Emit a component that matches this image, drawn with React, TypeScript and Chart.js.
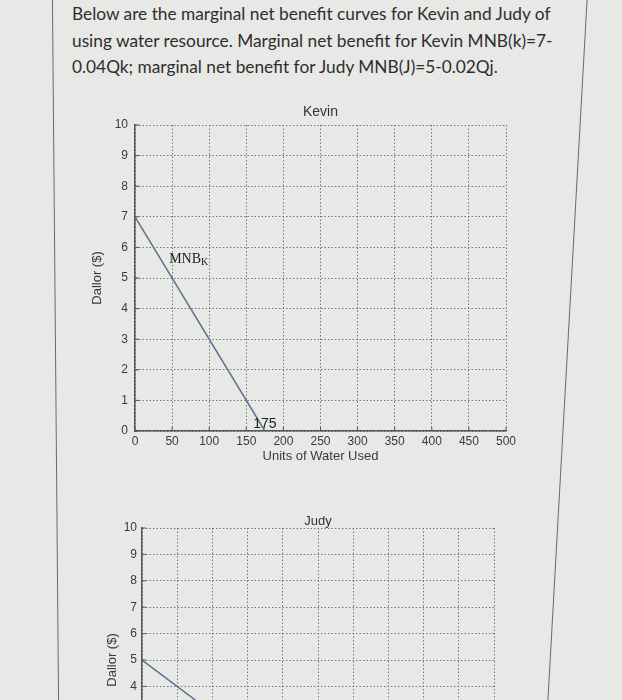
import React, { useEffect, useRef } from 'react';
import { Chart, registerables } from 'chart.js';

Chart.register(...registerables);

// question text, one entry per printed line
const questionLines = [
  'Below are the marginal net benefit curves for Kevin and Judy of',
  'using water resource. Marginal net benefit for Kevin MNB(k)=7-',
  '0.04Qk; marginal net benefit for Judy MNB(J)=5-0.02Qj.',
];

const xTickValues = [0, 50, 100, 150, 200, 250, 300, 350, 400, 450, 500];
const yTickValues = [0, 1, 2, 3, 4, 5, 6, 7, 8, 9, 10];

// Kevin: MNB(k) = 7 - 0.04Qk
const kevinQ = [0, 175];
const kevinMNB = [7, 0];
// Judy: MNB(J) = 5 - 0.02Qj
const judyQ = [0, 250];
const judyMNB = [5, 0];

// labels written on the plot, in data units
const kevinNotes = [
  { x: 46, y: 5.6, text: 'MNB', sub: 'K', kind: 'serif' },
  { x: 175, y: 0, text: '175', sub: '', kind: 'above' },
];
const judyNotes: typeof kevinNotes = [];

const LINE_COLOR = '#56728f';
const AXIS_COLOR = '#555';
const GRID_COLOR = '#777';
const TEXT_COLOR = '#3a3a3a';
const SANS = '"Liberation Sans", Arial, sans-serif';

type Note = (typeof kevinNotes)[number];

function makeDecor(notes: Note[]) {
  return {
    id: 'decor',
    afterDatasetsDraw(chart: any) {
      const { ctx, scales } = chart;
      const x = scales.x;
      const y = scales.y;
      ctx.save();
      // inward tick marks
      ctx.strokeStyle = AXIS_COLOR;
      ctx.lineWidth = 1;
      ctx.beginPath();
      x.ticks.forEach((t: any) => {
        const px = x.getPixelForValue(t.value);
        ctx.moveTo(px, y.bottom);
        ctx.lineTo(px, y.bottom - 4);
      });
      y.ticks.forEach((t: any) => {
        const py = y.getPixelForValue(t.value);
        ctx.moveTo(x.left, py);
        ctx.lineTo(x.left + 4, py);
      });
      ctx.stroke();

      ctx.fillStyle = '#222';
      notes.forEach((n) => {
        const px = x.getPixelForValue(n.x);
        const py = y.getPixelForValue(n.y);
        if (n.kind === 'serif') {
          ctx.font = '14px "Liberation Serif", serif';
          ctx.textAlign = 'left';
          ctx.textBaseline = 'middle';
          ctx.fillText(n.text, px, py);
          const w = ctx.measureText(n.text).width;
          ctx.font = '10px "Liberation Serif", serif';
          ctx.fillText(n.sub, px + w, py + 3);
        } else {
          ctx.font = '14px ' + SANS;
          ctx.textAlign = 'center';
          ctx.textBaseline = 'bottom';
          ctx.fillText(n.text, px, py);
        }
      });
      ctx.restore();
    },
  };
}

interface Geometry {
  topHeight: number;
  titlePadTop: number;
  titleSize: number;
  yAxisWidth: number;
  yTitlePad: number;
  yTickPad: number;
  xAxisHeight: number;
  xTitlePad: number;
  padRight: number;
}

interface PanelProps {
  title: string;
  q: number[];
  mnb: number[];
  notes: Note[];
  geo: Geometry;
  style: React.CSSProperties;
}

const Panel: React.FC<PanelProps> = ({ title, q, mnb, notes, geo, style }) => {
  const chartRef = useRef<HTMLCanvasElement>(null);

  useEffect(() => {
    const ctx = chartRef.current?.getContext('2d');
    if (!ctx) return;
    const tickFont = { family: SANS, size: 12 };
    const titleFont = { family: SANS, size: 13 };
    const grid = { color: GRID_COLOR, lineWidth: 1, drawTicks: false };
    const border = { display: true, color: AXIS_COLOR, width: 1.5, dash: [1.5, 2] };

    const chart = new Chart(ctx, {
      type: 'line',
      data: {
        datasets: [
          {
            data: q.map((v, i) => ({ x: v, y: mnb[i] })),
            borderColor: LINE_COLOR,
            borderWidth: 1.5,
            pointRadius: 0,
            fill: false,
            tension: 0,
          },
        ],
      },
      options: {
        animation: false,
        responsive: true,
        maintainAspectRatio: false,
        layout: { padding: { right: geo.padRight, left: 0, top: 0, bottom: 0 } },
        plugins: {
          legend: { display: false },
          tooltip: { enabled: false },
        },
        scales: {
          x: {
            type: 'linear',
            min: 0,
            max: 500,
            afterBuildTicks: (s: any) => {
              s.ticks = xTickValues.map((v) => ({ value: v }));
            },
            afterFit: (s: any) => {
              s.height = geo.xAxisHeight;
            },
            ticks: { color: TEXT_COLOR, font: tickFont, padding: 3, maxRotation: 0, autoSkip: false },
            grid,
            border,
            title: {
              display: true,
              text: 'Units of Water Used',
              color: TEXT_COLOR,
              font: titleFont,
              padding: { top: 0, bottom: geo.xTitlePad },
            },
          },
          // top axis only carries the panel title, centred over the plot
          top: {
            type: 'linear',
            position: 'top',
            min: 0,
            max: 500,
            afterFit: (s: any) => {
              s.height = geo.topHeight;
            },
            ticks: { display: false },
            grid: { display: false },
            border: { display: false },
            title: {
              display: true,
              text: title,
              color: '#333',
              font: { family: SANS, size: geo.titleSize, lineHeight: 1.2 },
              padding: { top: geo.titlePadTop, bottom: 0 },
            },
          },
          y: {
            type: 'linear',
            min: 0,
            max: 10,
            afterBuildTicks: (s: any) => {
              s.ticks = yTickValues.map((v) => ({ value: v }));
            },
            afterFit: (s: any) => {
              s.width = geo.yAxisWidth;
            },
            ticks: { color: TEXT_COLOR, font: tickFont, padding: geo.yTickPad },
            grid,
            border,
            title: {
              display: true,
              text: 'Dallor ($)',
              color: TEXT_COLOR,
              font: titleFont,
              padding: { top: geo.yTitlePad, bottom: 0 },
            },
          },
        },
      },
      plugins: [makeDecor(notes)],
    } as any);

    return () => chart.destroy();
  }, [title, q, mnb, notes, geo]);

  return (
    <div style={{ position: 'absolute', ...style }}>
      <canvas ref={chartRef} />
    </div>
  );
};

const kevinGeo: Geometry = {
  topHeight: 30,
  titlePadTop: 8.6,
  titleSize: 14,
  yAxisWidth: 75,
  yTitlePad: 30,
  yTickPad: 7,
  xAxisHeight: 44,
  xTitlePad: 11,
  padRight: 24,
};

const judyGeo: Geometry = {
  topHeight: 33,
  titlePadTop: 18.2,
  titleSize: 13,
  yAxisWidth: 72,
  yTitlePad: 35,
  yTickPad: 5,
  xAxisHeight: 43,
  xTitlePad: 11,
  padRight: 21,
};

export default function App() {
  return (
    <div
      style={{
        position: 'fixed',
        left: 0,
        top: 0,
        width: 622,
        height: 700,
        overflow: 'hidden',
        background: '#e8e8e6',
      }}
    >
      {/* page frame */}
      <div
        style={{
          position: 'absolute',
          left: 55,
          top: -10,
          width: 1,
          height: 720,
          background: '#6a6a6a',
          transform: 'rotate(-0.5deg)',
        }}
      />
      <div
        style={{
          position: 'absolute',
          left: 567,
          top: -10,
          width: 1,
          height: 720,
          background: '#6a6a6a',
          transform: 'rotate(3.2deg)',
        }}
      />
      <div
        style={{
          position: 'absolute',
          left: 72,
          top: 1,
          fontFamily: 'Lato, "Open Sans", sans-serif',
          fontSize: 17.3,
          lineHeight: '26.5px',
          color: '#2e2e2e',
          whiteSpace: 'nowrap',
        }}
      >
        {questionLines.map((l) => (
          <div key={l}>{l}</div>
        ))}
      </div>
      <Panel
        title="Kevin"
        q={kevinQ}
        mnb={kevinMNB}
        notes={kevinNotes}
        geo={kevinGeo}
        style={{ left: 60, top: 95, width: 470, height: 380 }}
      />
      <Panel
        title="Judy"
        q={judyQ}
        mnb={judyMNB}
        notes={judyNotes}
        geo={judyGeo}
        style={{ left: 70, top: 495, width: 445, height: 340 }}
      />
    </div>
  );
}
